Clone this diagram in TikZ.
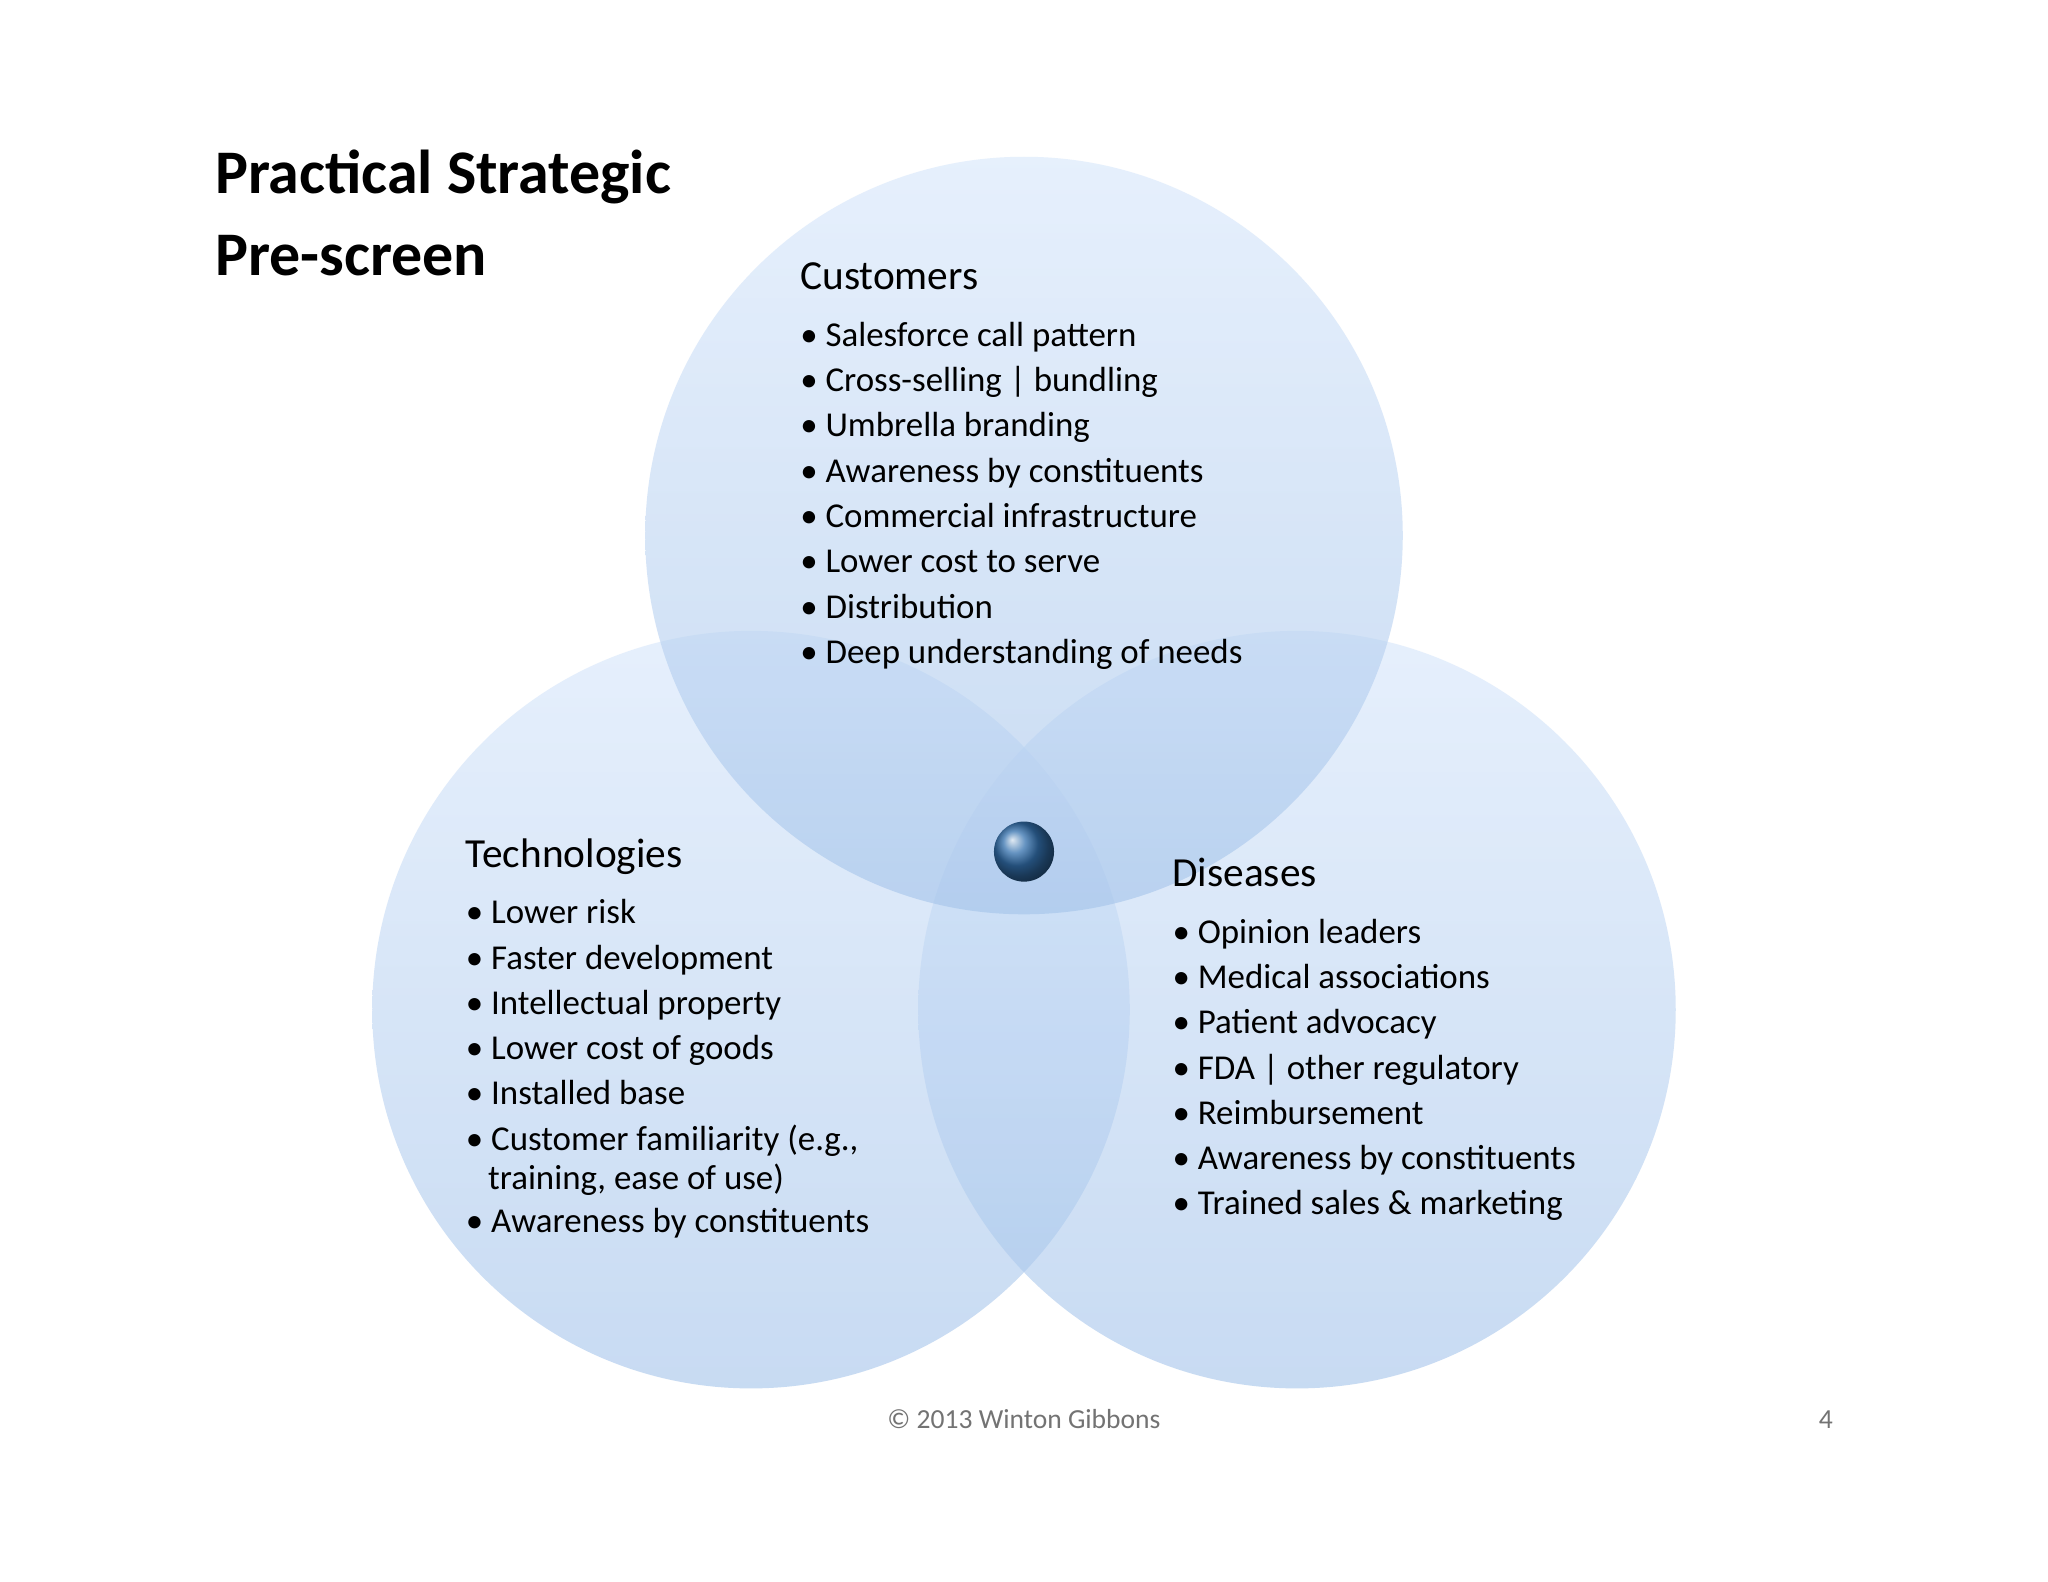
\documentclass[tikz,border=0pt]{standalone}
\usepackage{fontspec}
\setmainfont{Carlito}
\begin{document}
\begin{tikzpicture}[x=0.01cm,y=-0.01cm,
  circ/.style={top color=blue!15!cyan!8!white, bottom color=blue!35!cyan!20!white!90!black, fill opacity=0.55, draw=none},
  body/.style={anchor=base west, font=\fontsize{7.6pt}{9pt}\selectfont, inner sep=0pt},
  head/.style={anchor=base west, font=\fontsize{9pt}{11pt}\selectfont, inner sep=0pt},
  title/.style={anchor=base west, font=\fontsize{13.5pt}{16pt}\selectfont\bfseries, inner sep=0pt},
  foot/.style={anchor=base, font=\fontsize{6pt}{7pt}\selectfont, text=black!55, inner sep=0pt}]
\useasboundingbox[fill=white] (0,0) rectangle (1568,1211);
\definecolor{c1}{HTML}{D6E6FB}\definecolor{c2}{HTML}{A3C3EA}
\tikzset{circ/.style={top color=c1, bottom color=c2, fill opacity=0.6, draw=none}}
\shade[circ] (575,773) circle (290);
\shade[circ] (993,773) circle (290);
\shade[circ] (784,410) circle (290);
\shade[ball color=blue!50!cyan!60!black!80] (784,652) circle (23);
\node[title] (t1) at (164,148) {Practical Strategic};
\node[title] (t2) at (164,211) {Pre-screen};
\node[head] (hc) at (612,222) {Customers};
\foreach \t [count=\i] in {Salesforce call pattern,Cross-selling | bundling,Umbrella branding,Awareness by constituents,Commercial infrastructure,Lower cost to serve,Distribution,Deep understanding of needs}
  \node[body] (c\i) at (612,{265+(\i-1)*34.7}) {\textbullet\ \t};
\node[head] (ht) at (356,664) {Technologies};
\foreach \t/\yy [count=\i] in {Lower risk/707,Faster development/742,Intellectual property/777,Lower cost of goods/811,Installed base/846,{Customer familiarity (e.g.,}/881,Awareness by constituents/944}
  \node[body] (tl\i) at (356,\yy) {\textbullet\ \t};
\node[body] (tw) at (373,911) {training, ease of use)};
\node[head] (hd) at (897,679) {Diseases};
\foreach \t [count=\i] in {Opinion leaders,Medical associations,Patient advocacy,FDA | other regulatory,Reimbursement,Awareness by constituents,Trained sales \& marketing}
  \node[body] (d\i) at (897,{722+(\i-1)*34.7}) {\textbullet\ \t};
\node[foot] (f1) at (784,1094) {© 2013 Winton Gibbons};
\node[foot] (f2) at (1398,1094) {4};
\end{tikzpicture}
\end{document}
